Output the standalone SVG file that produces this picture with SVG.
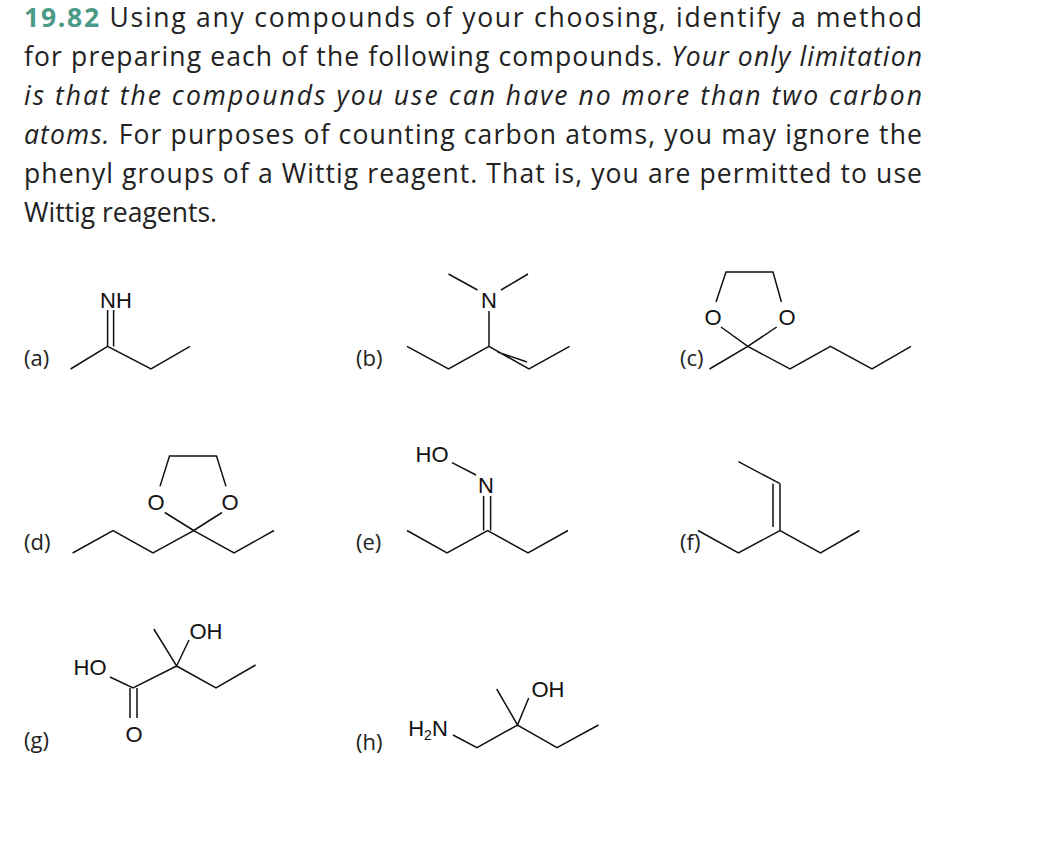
<svg xmlns="http://www.w3.org/2000/svg" width="1052" height="864" viewBox="0 0 1052 864">
<style>
.h{font-family:"Open Sans",Lato,sans-serif;font-size:26.5px;fill:#222}
.i{font-style:italic}
.n{fill:#4a9a87;font-weight:bold}
.l{font-family:"Open Sans",Lato,sans-serif;font-size:22px;fill:#222}
.a{font-family:"Liberation Sans",Arial,sans-serif;font-size:22px;fill:#111;text-anchor:middle}
.s{font-size:14px}
path{fill:none;stroke:#111;stroke-width:1.5}
</style>
<rect width="1052" height="864" fill="#fff"/>
<text class="h" x="24" y="27" textLength="898" lengthAdjust="spacing"><tspan class="n">19.82</tspan>  Using any compounds of your choosing, identify a method</text>
<text class="h" x="24" y="66" textLength="898" lengthAdjust="spacing">for preparing each of the following compounds. <tspan class="i">Your only limitation</tspan></text>
<text class="h i" x="24" y="105" textLength="898" lengthAdjust="spacing">is that the compounds you use can have no more than two carbon</text>
<text class="h" x="24" y="144" textLength="898" lengthAdjust="spacing"><tspan class="i">atoms.</tspan> For purposes of counting carbon atoms, you may ignore the</text>
<text class="h" x="24" y="183" textLength="898" lengthAdjust="spacing">phenyl groups of a Wittig reagent. That is, you are permitted to use</text>
<text class="h" x="24" y="222">Wittig reagents.</text>

<g id="a">
<text class="l" x="24" y="366">(a)</text>
<path d="M70.6 369L107.6 346.4L151 369L190 346.4M107.6 346.4V310M113.6 346.4V310"/>
<text class="a" x="116" y="308">NH</text>
</g>
<g id="b">
<text class="l" x="356" y="366">(b)</text>
<path d="M407 346.4L448.5 369L489 346.4L529 369L569.6 346.4M497.6 352L527 362M489 346.4V311M448.5 274L477.5 290M528 274L501 290"/>
<text class="a" x="489" y="308">N</text>
</g>
<g id="c">
<text class="l" x="680" y="366">(c)</text>
<path d="M709.5 369L747.8 346.4L790 369L830.5 346.4L872 369L911 346.4M721 327L747.8 346.4L776.7 327M716 302L726 272H773L781.4 302"/>
<text class="a" x="713" y="325">O</text>
<text class="a" x="787" y="325">O</text>
</g>
<g id="d">
<text class="l" x="24" y="550">(d)</text>
<path d="M72.6 553L113 530.5L153 553L193.7 530.5L234 553L274 530.5M164.8 512.5L193.7 530.5L222 512.5M160 486.4L169.5 456H216.5L226 486.4"/>
<text class="a" x="156" y="510">O</text>
<text class="a" x="230" y="510">O</text>
</g>
<g id="e">
<text class="l" x="356" y="550">(e)</text>
<path d="M407 530.5L447 553L487.6 530.5L528 553L568 530.5M483.6 530.5V496M490.6 530.5V496M452 462.7L476 475"/>
<text class="a" x="486" y="493">N</text>
<text class="a" x="432" y="462">HO</text>
</g>
<g id="f">
<text class="l" x="680" y="550">(f)</text>
<path d="M698 530.5L738.4 553L780 530.5L820.5 553L859.4 530.5M780 530.5V483.7M773 527V483.7M738.4 461.7L780 483.7"/>
</g>
<g id="g">
<text class="l" x="24" y="748">(g)</text>
<path d="M153.8 629L176.6 666L189 640M176.6 666L216 688L255.6 665M176.6 666L133 688L110 677M130 688V718M137 688V718"/>
<text class="a" x="206" y="639">OH</text>
<text class="a" x="90" y="675">HO</text>
<text class="a" x="134" y="742">O</text>
</g>
<g id="h">
<text class="l" x="356" y="750">(h)</text>
<path d="M453 735L477 747.7L517.5 725L557 747.7L598.5 725M496.7 689L517.5 725L528.7 698"/>
<text class="a" x="548" y="697">OH</text>
<text class="a" x="428" y="736">H<tspan class="s" dy="4">2</tspan><tspan dy="-4">N</tspan></text>
</g>
</svg>
